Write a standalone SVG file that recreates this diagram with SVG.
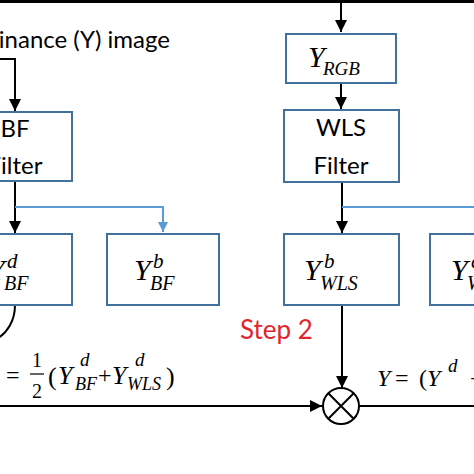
<svg xmlns="http://www.w3.org/2000/svg" width="474" height="474" viewBox="0 0 474 474">
<style>
.box{fill:#fff;stroke:#41719c;stroke-width:2}
.lbl{font-family:Lato,"Liberation Sans",sans-serif;font-size:24px;fill:#000}
.m{font-family:"Liberation Serif","DejaVu Serif",serif;font-style:italic;fill:#000}
.r{font-family:"Liberation Serif","DejaVu Serif",serif;fill:#000}
.k{stroke:#000;stroke-width:2;fill:none}
.b{stroke:#5b9bd5;stroke-width:2;fill:none}
</style>
<defs>
<marker id="ah" markerWidth="12" markerHeight="12" viewBox="0 0 12 12" refX="12" refY="6" orient="auto" markerUnits="userSpaceOnUse"><path d="M0,0 L12,6 L0,12 z" fill="#000"/></marker>
<marker id="ahb" markerWidth="10" markerHeight="10" viewBox="0 0 10 10" refX="10" refY="5" orient="auto" markerUnits="userSpaceOnUse"><path d="M0,0 L10,5 L0,10 z" fill="#5b9bd5"/></marker>
</defs>
<rect width="474" height="474" fill="#fff"/>
<g id="connectors">
<line x1="0" y1="1.5" x2="474" y2="1.5" stroke="#000" stroke-width="3"/>
<path class="k" d="M0,59 H15 V111" marker-end="url(#ah)"/>
<path class="k" d="M341,2 V32" marker-end="url(#ah)"/>
<path class="k" d="M341,83 V109" marker-end="url(#ah)"/>
<path class="k" d="M15,181 V233" marker-end="url(#ah)"/>
<path class="b" d="M15,207 H163 V232" marker-end="url(#ahb)"/>
<path class="k" d="M342,182 V233" marker-end="url(#ah)"/>
<path class="b" d="M342,207 H474"/>
<path class="k" d="M15,305 C15,320 8,333 -5,340"/>
<path class="k" d="M342,305 V388" marker-end="url(#ah)"/>
<path class="k" d="M0,406 H322" marker-end="url(#ah)"/>
<path class="k" d="M359,406 H474"/>
<line x1="30" y1="374" x2="44" y2="374" stroke="#000" stroke-width="1.2"/>
</g>
<g id="input-label">
<text class="lbl" x="170" y="48" text-anchor="end" font-size="23">Luminance (Y) image</text>
</g>
<g id="bf-filter">
<rect class="box" x="-43" y="112" width="115" height="69"/>
<text class="lbl" x="15" y="137" text-anchor="middle">BF</text>
<text class="lbl" x="15" y="174" text-anchor="middle">Filter</text>
</g>
<g id="y-rgb">
<rect class="box" x="286" y="34" width="110" height="49"/>
<text class="m" x="308" y="67" font-size="30">Y</text>
<text class="m" x="323" y="75" font-size="19">RGB</text>
</g>
<g id="wls-filter">
<rect class="box" x="284" y="110" width="115" height="72"/>
<text class="lbl" x="341" y="136" text-anchor="middle">WLS</text>
<text class="lbl" x="341" y="174" text-anchor="middle">Filter</text>
</g>
<g id="y-d-bf">
<rect class="box" x="-43" y="234" width="115" height="71"/>
<text class="m" x="-12" y="280" font-size="30">Y</text>
<text class="m" x="7" y="268" font-size="21">d</text>
<text class="m" x="4" y="290" font-size="20">BF</text>
</g>
<g id="y-b-bf">
<rect class="box" x="107" y="234" width="112" height="71"/>
<text class="m" x="134" y="280" font-size="30">Y</text>
<text class="m" x="153" y="268" font-size="21">b</text>
<text class="m" x="150" y="290" font-size="20">BF</text>
</g>
<g id="y-b-wls">
<rect class="box" x="284" y="234" width="115" height="71"/>
<text class="m" x="304" y="280" font-size="30">Y</text>
<text class="m" x="324" y="268" font-size="21">b</text>
<text class="m" x="320" y="290" font-size="20">WLS</text>
</g>
<g id="y-d-wls">
<rect class="box" x="430" y="234" width="115" height="71"/>
<text class="m" x="451" y="280" font-size="30">Y</text>
<text class="m" x="471" y="268" font-size="21">d</text>
<text class="m" x="467" y="290" font-size="20">WLS</text>
</g>
<g id="step2">
<text x="240" y="339" font-family="Lato,'Liberation Sans',sans-serif" font-size="26" fill="#e0262b">Step 2</text>
</g>
<g id="multiplier">
<circle cx="341" cy="406" r="18" fill="#fff" stroke="#000" stroke-width="2"/>
<path class="k" d="M328.3,393.3 L353.7,418.7 M353.7,393.3 L328.3,418.7"/>
</g>
<g id="formula-left">
<text class="r" x="6" y="383" font-size="24">=</text>
<text class="r" x="32" y="367" font-size="20">1</text>
<text class="r" x="32" y="398" font-size="20">2</text>
<text class="r" x="48" y="385" font-size="26">(</text>
<text class="m" x="58" y="384" font-size="26">Y</text>
<text class="m" x="80" y="366" font-size="19">d</text>
<text class="m" x="75" y="390" font-size="18">BF</text>
<text class="r" x="98" y="383" font-size="24">+</text>
<text class="m" x="112" y="384" font-size="26">Y</text>
<text class="m" x="135" y="366" font-size="19">d</text>
<text class="m" x="127" y="390" font-size="18">WLS</text>
<text class="r" x="166" y="385" font-size="26">)</text>
</g>
<g id="formula-right">
<text class="m" x="377" y="386" font-size="24">Y</text>
<text class="r" x="395" y="386" font-size="24">=</text>
<text class="r" x="419" y="386" font-size="24">(</text>
<text class="m" x="427" y="386" font-size="24">Y</text>
<text class="m" x="448" y="372" font-size="19">d</text>
<text class="r" x="470" y="386" font-size="24">+</text>
</g>
</svg>
